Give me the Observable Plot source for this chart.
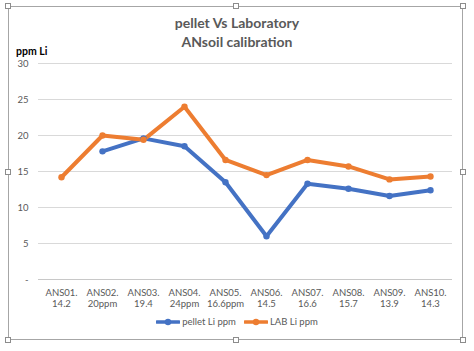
<!DOCTYPE html>
<html>
<head>
<meta charset="utf-8">
<script src="https://cdn.jsdelivr.net/npm/d3@7"></script>
<script src="https://cdn.jsdelivr.net/npm/@observablehq/plot@0.6"></script>
<style>
  html, body { margin: 0; padding: 0; background: #fff; }
  #wrap { position: relative; width: 474px; height: 351px; overflow: hidden; font-family: Lato, "Open Sans", sans-serif; }
  #frame { position: absolute; left: 8px; top: 6px; width: 455px; height: 334px; border: 1px solid #a6a6a6; box-sizing: border-box; }
  .h { position: absolute; width: 6px; height: 6px; background: #fff; border: 1px solid #8c8c8c; box-sizing: border-box; }
  #title { position: absolute; left: 0; width: 474px; top: 13px; text-align: center; font-weight: bold; font-size: 14px; line-height: 19px; color: #595959; }
  #ylab { position: absolute; left: 16px; top: 45px; font-weight: bold; font-size: 10.5px; color: #000; }
  #plot { position: absolute; left: 0; top: 0; }
  #legend { position: absolute; top: 316px; left: 0; width: 474px; display: flex; justify-content: center; gap: 8px; font-size: 9.5px; color: #595959; }
  #legend span { display: inline-flex; align-items: center; gap: 2px; }
</style>
</head>
<body>
<div id="wrap">
  <div id="plot"></div>
  <div id="frame"></div>
  <div id="title">pellet Vs Laboratory<br>ANsoil calibration</div>
  <div id="ylab">ppm Li</div>
  <div id="legend"></div>
</div>
<script>
const categories = ["ANS01.\n14.2", "ANS02.\n20ppm", "ANS03.\n19.4", "ANS04.\n24ppm", "ANS05.\n16.6ppm", "ANS06.\n14.5", "ANS07.\n16.6", "ANS08.\n15.7", "ANS09.\n13.9", "ANS10.\n14.3"];
const pellet = [null, 17.8, 19.6, 18.5, 13.5, 6.0, 13.3, 12.6, 11.6, 12.4];
const lab = [14.2, 20, 19.4, 24, 16.6, 14.5, 16.6, 15.7, 13.9, 14.3];
const seriesNames = ["pellet Li ppm", "LAB Li ppm"];
const colors = ["#4472C4", "#ED7D31"];
const yTicks = [0, 5, 10, 15, 20, 25, 30];

const rows = [];
categories.forEach((c, i) => {
  rows.push({cat: c, series: seriesNames[0], v: pellet[i]});
  rows.push({cat: c, series: seriesNames[1], v: lab[i]});
});

const chart = Plot.plot({
  width: 474,
  height: 315,
  marginTop: 63,
  marginBottom: 36,
  marginLeft: 38,
  marginRight: 22,
  style: {fontFamily: "Lato, 'Open Sans', sans-serif", fontSize: "9.5px", color: "#595959", background: "transparent"},
  x: {type: "point", domain: categories, padding: 0.5, label: null},
  y: {domain: [0, 30], label: null},
  color: {domain: seriesNames, range: colors},
  marks: [
    Plot.ruleY(yTicks.filter(d => d > 0), {stroke: "#d9d9d9", strokeWidth: 1}),
    Plot.ruleY([0], {stroke: "#c8c8c8", strokeWidth: 1}),
    Plot.axisY({ticks: yTicks, tickSize: 0, tickPadding: 10, tickFormat: d => d === 0 ? "-" : d, fill: "#595959"}),
    Plot.axisX({tickSize: 0, tickPadding: 9, fill: "#595959", lineHeight: 1.15}),
    Plot.line(rows, {x: "cat", y: "v", z: "series", stroke: "series", strokeWidth: 4, strokeLinejoin: "round", strokeLinecap: "round"}),
    Plot.dot(rows.filter(d => d.v != null), {x: "cat", y: "v", fill: "series", r: 3.2, stroke: null})
  ]
});
document.getElementById("plot").appendChild(chart);

const leg = document.getElementById("legend");
seriesNames.forEach((n, i) => {
  const s = document.createElement("span");
  s.innerHTML = `<svg width="24" height="8"><line x1="1" y1="4" x2="23" y2="4" stroke="${colors[i]}" stroke-width="3.5" stroke-linecap="round"/><circle cx="12" cy="4" r="3.2" fill="${colors[i]}"/></svg>${n}`;
  leg.appendChild(s);
});

const wrap = document.getElementById("wrap");
[[8,6],[236,6],[463,6],[8,172],[463,172],[8,340],[236,340],[463,340]].forEach(([x,y]) => {
  const h = document.createElement("div");
  h.className = "h";
  h.style.left = (x - 3) + "px";
  h.style.top = (y - 3) + "px";
  wrap.appendChild(h);
});
</script>
</body>
</html>
